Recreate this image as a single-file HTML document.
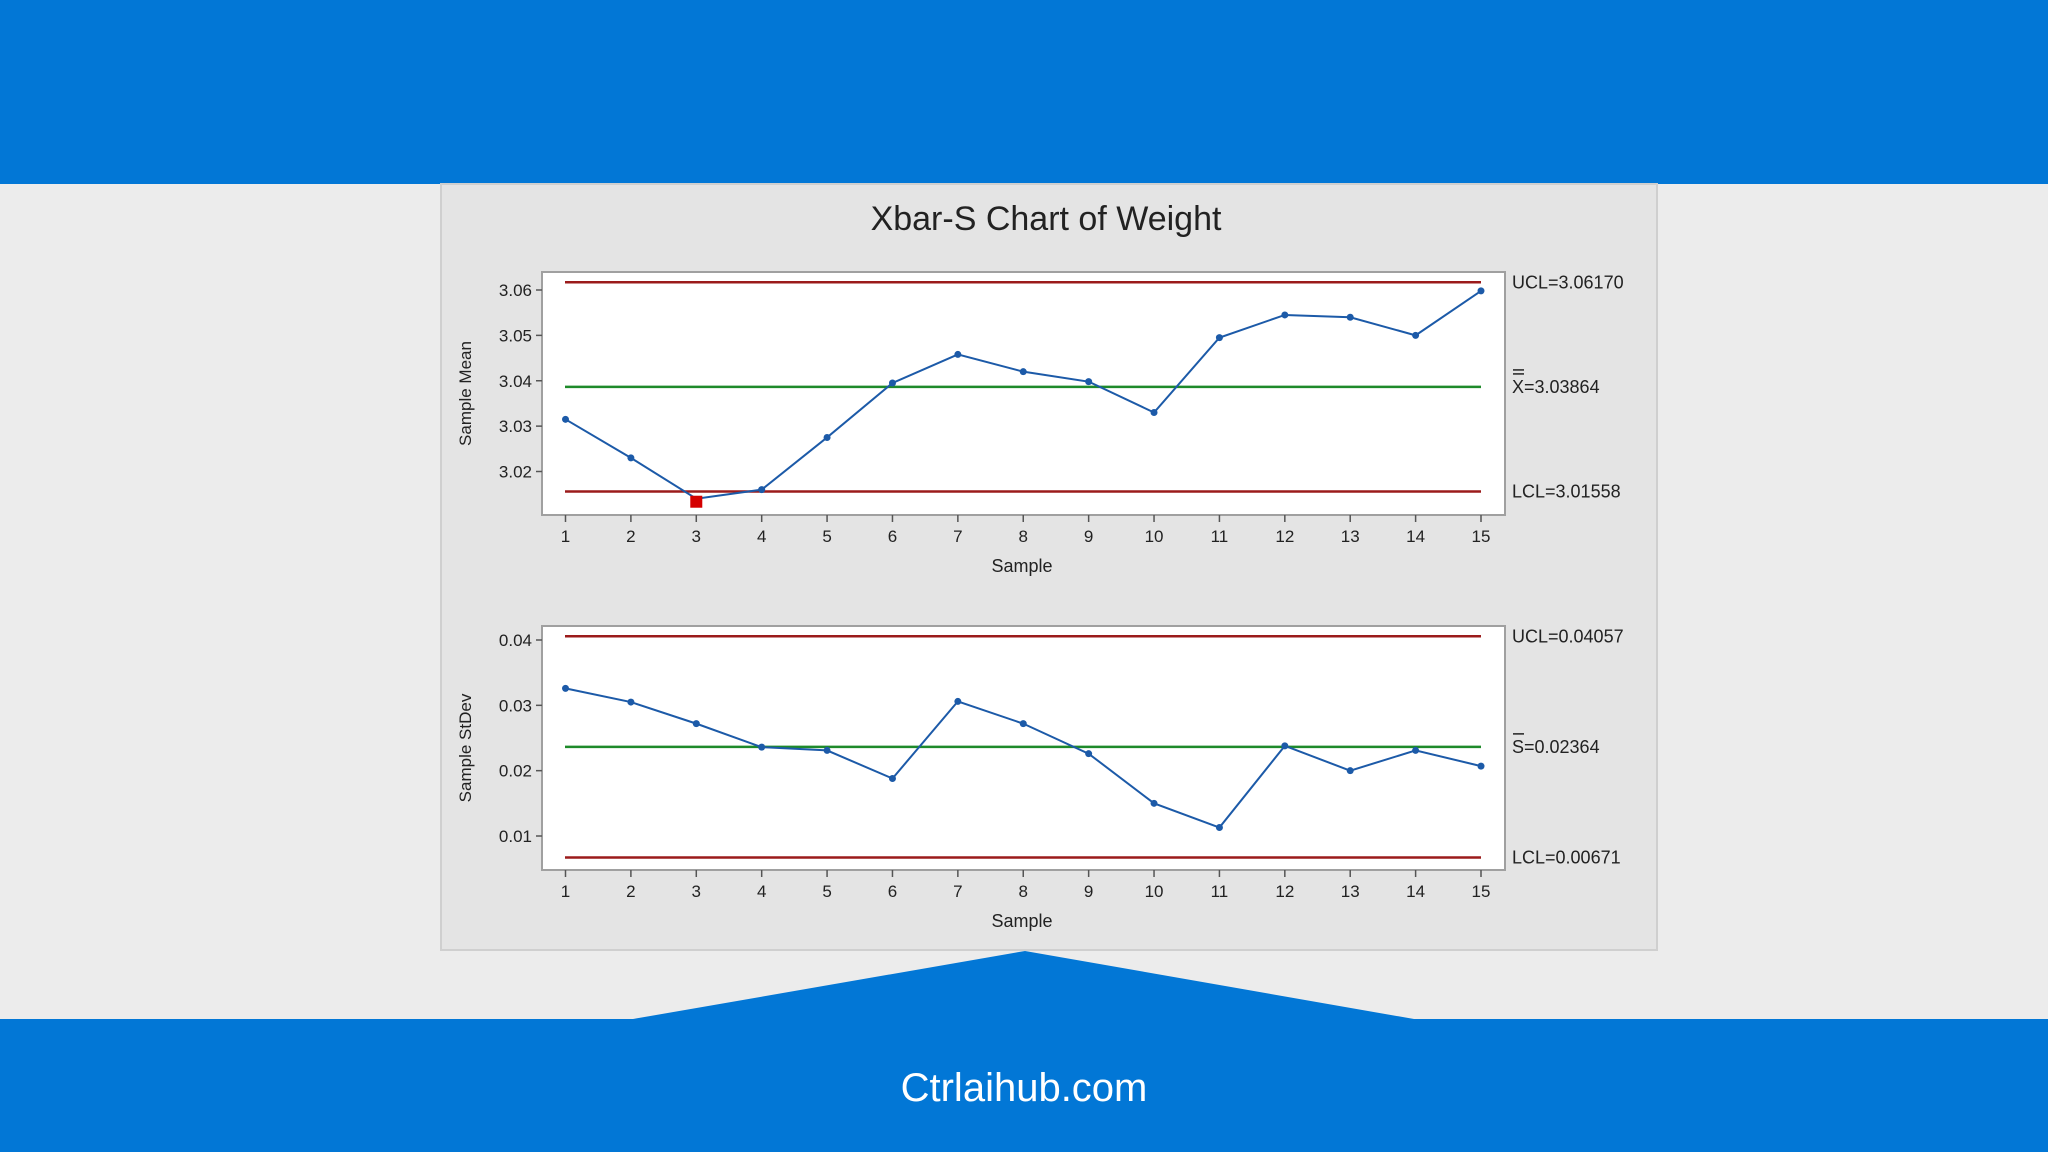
<!DOCTYPE html>
<html><head><meta charset="utf-8"><style>
html,body{margin:0;padding:0;width:2048px;height:1152px;overflow:hidden;background:#ececec;font-family:"Liberation Sans",sans-serif}
svg{display:block}
</style></head><body>
<svg id="c" width="2048" height="1152" viewBox="0 0 2048 1152" xmlns="http://www.w3.org/2000/svg">
<rect x="0" y="0" width="2048" height="184" fill="#0277d6"/>
<rect x="441" y="184" width="1216" height="766" fill="#e4e4e4" stroke="#cfcfcf" stroke-width="2"/>
<polygon points="633,1019 1025,951 1414,1019" fill="#0277d6"/>
<rect x="0" y="1019" width="2048" height="133" fill="#0277d6"/>
<text x="1024" y="1101" text-anchor="middle" font-size="40" fill="#fff">Ctrlaihub.com</text>
<text x="1046" y="230" text-anchor="middle" font-size="34" fill="#222">Xbar-S Chart of Weight</text>
<g id="g"></g>
</svg>
<script>
const samples=[1,2,3,4,5,6,7,8,9,10,11,12,13,14,15];
const meanValues=[3.0315,3.023,3.014,3.016,3.0275,3.0395,3.0458,3.042,3.0398,3.033,3.0495,3.0545,3.054,3.050,3.0598];
const sdValues=[0.0326,0.0305,0.0272,0.0236,0.0231,0.0188,0.0306,0.0272,0.0226,0.0150,0.0113,0.0238,0.0200,0.0231,0.0207];
const meanTicks=[3.02,3.03,3.04,3.05,3.06];
const sdTicks=[0.01,0.02,0.03,0.04];
const meanLimits=[3.06170,3.03864,3.01558];
const sdLimits=[0.04057,0.02364,0.00671];
const meanLabels=["UCL=3.06170","X=3.03864","LCL=3.01558"];
const sdLabels=["UCL=0.04057","S=0.02364","LCL=0.00671"];

const NS="http://www.w3.org/2000/svg";
const G=document.getElementById('g');
function mk(t,a,p){const e=document.createElementNS(NS,t);for(const k in a)e.setAttribute(k,a[k]);(p||G).appendChild(e);return e;}
const x=s=>565.5+(s-1)*(1481-565.5)/14;

function panel(top,bot,yv,yp,vals,ticks,limits,labels,ytitle,dp,lcl,name,outIdx){
  const y=v=>yp[0]+(v-yv[0])*(yp[1]-yp[0])/(yv[1]-yv[0]);
  const f=mk('rect',{x:542,y:top,width:963,height:bot-top,fill:'#fff',stroke:'#a0a0a0','stroke-width':2});
  
  
  ticks.forEach(t=>{
    const l=mk('line',{x1:536,x2:542,y1:y(t),y2:y(t),stroke:'#555','stroke-width':1.5});
    
    
    const tx=mk('text',{x:532,y:y(t)+6,'text-anchor':'end','font-size':17,fill:'#222'});
    tx.textContent=t.toFixed(dp);
    
    
  });
  samples.forEach(s=>{
    const l=mk('line',{x1:x(s),x2:x(s),y1:bot,y2:bot+7,stroke:'#555','stroke-width':1.5});
    
    
    const tx=mk('text',{x:x(s),y:bot+27,'text-anchor':'middle','font-size':17,fill:'#222'});
    tx.textContent=s;
    
    
  });
  const xt=mk('text',{x:1022,y:bot+57,'text-anchor':'middle','font-size':18,fill:'#222'});
  xt.textContent='Sample';
  
  
  const yt=mk('text',{x:0,y:0,'text-anchor':'middle','font-size':17,fill:'#222',transform:`translate(471,${(top+bot)/2}) rotate(-90)`});
  yt.textContent=ytitle;
  
  
  const cols=['#9b1b1b','#1e8a2a','#9b1b1b'];
  const nm=['ucl-line','center-line','lcl-line'];
  limits.forEach((v,i)=>{
    const l=mk('line',{x1:565,x2:1481,y1:y(v),y2:y(v),stroke:cols[i],'stroke-width':2.5});
    
    
    const tx=mk('text',{x:1512,y:y(v)+6,'font-size':18,fill:'#222'});
    tx.textContent=labels[i];
    
    
    if(i==1){
      const b=mk('line',{x1:1513,x2:1524,y1:y(v)-13,y2:y(v)-13,stroke:'#222','stroke-width':1.5});
      
      
      if(lcl){const b2=mk('line',{x1:1513,x2:1524,y1:y(v)-17,y2:y(v)-17,stroke:'#222','stroke-width':1.5});
      
      }
    }
  });
  const p=mk('polyline',{points:vals.map((v,i)=>x(samples[i])+','+y(v)).join(' '),fill:'none',stroke:'#1c5aa8','stroke-width':2});
  
  
  vals.forEach((v,i)=>{
    if(i===outIdx){
      const r=mk('rect',{x:x(samples[i])-6,y:y(v)-3,width:12,height:12,fill:'#d40000'});
      
      
    }else{
      const c=mk('circle',{cx:x(samples[i]),cy:y(v),r:3.5,fill:'#1c5aa8'});
      
      
    }
  });
}
panel(272,515,[3.02,3.06],[471.5,290],meanValues,meanTicks,meanLimits,meanLabels,'Sample Mean',2,true,'mean-chart',meanValues.findIndex(v=>v<meanLimits[2]));
panel(626,870,[0.01,0.04],[836,640],sdValues,sdTicks,sdLimits,sdLabels,'Sample StDev',2,false,'stdev-chart',-1);
</script>
</body></html>
